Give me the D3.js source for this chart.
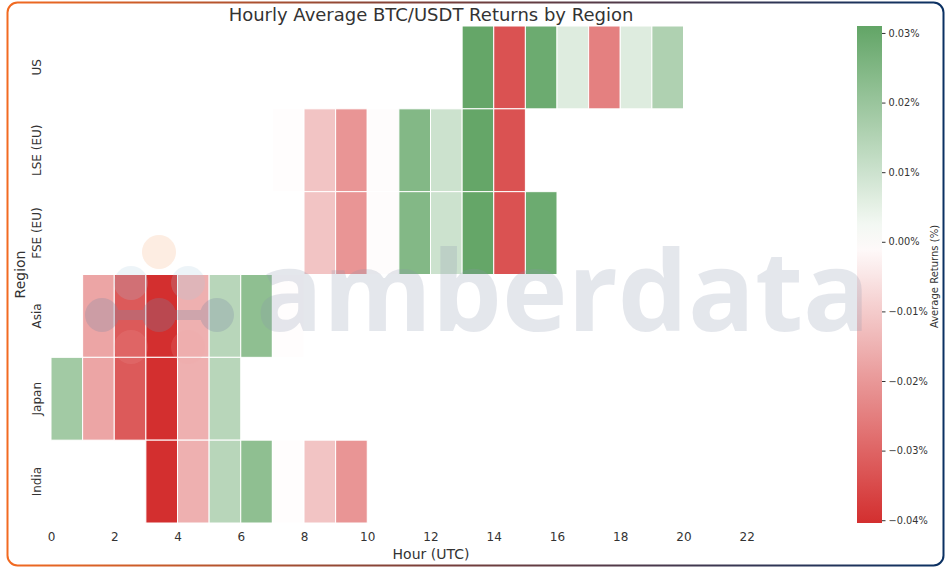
<!DOCTYPE html>
<html>
<head>
<meta charset="utf-8">
<script src="https://cdn.jsdelivr.net/npm/d3@7"></script>
<style>
  body { margin: 0; background: #fff; }
  svg { display: block; font-family: "DejaVu Sans", sans-serif; }
</style>
</head>
<body>
<div id="wrapper"></div>
<script>
/// Data ///
const regions = ["US", "LSE (EU)", "FSE (EU)", "Asia", "Japan", "India"];
const hourTicks = [0, 2, 4, 6, 8, 10, 12, 14, 16, 18, 20, 22];
const cbTicks = [0.03, 0.02, 0.01, 0.0, -0.01, -0.02, -0.03, -0.04];

// average returns (%) per region, keyed by hour (missing hours = no data)
const usHours = [13, 14, 15, 16, 17, 18, 19];
const usVals = [0.0305, -0.0336, 0.0290, 0.0065, -0.0247, 0.0065, 0.0158];
const lseHours = [7, 8, 9, 10, 11, 12, 13, 14];
const lseVals = [-0.0004, -0.0115, -0.0206, -0.0006, 0.0245, 0.0100, 0.0305, -0.0336];
const fseHours = [8, 9, 10, 11, 12, 13, 14, 15];
const fseVals = [-0.0115, -0.0206, -0.0006, 0.0245, 0.0100, 0.0305, -0.0336, 0.0290];
const asiaHours = [1, 2, 3, 4, 5, 6, 7];
const asiaVals = [-0.0175, -0.0320, -0.0404, -0.0154, 0.0140, 0.0222, -0.0003];
const japanHours = [0, 1, 2, 3, 4, 5];
const japanVals = [0.0184, -0.0175, -0.0320, -0.0404, -0.0154, 0.0140];
const indiaHours = [3, 4, 5, 6, 7, 8, 9];
const indiaVals = [-0.0404, -0.0154, 0.0140, 0.0222, -0.0003, -0.0115, -0.0206];

const rowHours = [usHours, lseHours, fseHours, asiaHours, japanHours, indiaHours];
const rowVals = [usVals, lseVals, fseVals, asiaVals, japanVals, indiaVals];

const cells = [];
regions.forEach((r, i) => {
  rowHours[i].forEach((h, j) => cells.push({ region: r, hour: h, value: rowVals[i][j] }));
});

/// Dimensions ///
const width = 951;
const height = 568;
const plot = { left: 51, right: 810, top: 26, bottom: 523 };
const cb = { left: 857, right: 882 };
const vmin = -0.0404, vmax = 0.0310;

const svg = d3.select("#wrapper").append("svg")
  .attr("width", width)
  .attr("height", height);

// frame with gradient border
const defs = svg.append("defs");
const grad = defs.append("linearGradient").attr("id", "frameGrad")
  .attr("x1", "0%").attr("x2", "100%").attr("y1", "0%").attr("y2", "0%");
grad.append("stop").attr("offset", "0%").attr("stop-color", "#f26a21");
grad.append("stop").attr("offset", "45%").attr("stop-color", "#7a3f3a");
grad.append("stop").attr("offset", "100%").attr("stop-color", "#0b3163");

svg.append("rect")
  .attr("x", 7.5).attr("y", 2.5)
  .attr("width", 936).attr("height", 563)
  .attr("rx", 10)
  .attr("fill", "#fff")
  .attr("stroke", "url(#frameGrad)")
  .attr("stroke-width", 2);

/// Scales ///
const x = d3.scaleLinear().domain([0, 24]).range([plot.left, plot.right]);
const y = d3.scaleBand().domain(regions).range([plot.top, plot.bottom]);
const color = d3.scaleLinear()
  .domain([vmin, 0, vmax])
  .range(["#d32f2f", "#ffffff", "#62a566"]);

/// Cells ///
svg.append("g")
  .selectAll("rect")
  .data(cells)
  .join("rect")
    .attr("x", d => x(d.hour))
    .attr("y", d => y(d.region))
    .attr("width", x(1) - x(0))
    .attr("height", y.bandwidth())
    .attr("fill", d => color(d.value))
    .attr("stroke", "#fff")
    .attr("stroke-width", 1);

/// Axes ///
const xAxis = svg.append("g")
  .attr("transform", `translate(0, ${plot.bottom})`)
  .call(d3.axisBottom(x).tickValues(hourTicks).tickSize(0).tickPadding(9).tickFormat(d3.format("d")));
xAxis.select(".domain").remove();
xAxis.selectAll("text").attr("font-size", 12).attr("fill", "#333").attr("font-family", "DejaVu Sans");

const yAxis = svg.append("g")
  .attr("transform", `translate(${plot.left}, 0)`)
  .call(d3.axisLeft(y).tickSize(0).tickPadding(0));
yAxis.select(".domain").remove();
yAxis.selectAll("text")
  .attr("font-size", 12).attr("fill", "#333").attr("font-family", "DejaVu Sans")
  .attr("text-anchor", "middle")
  .attr("transform", "translate(-14,0) rotate(-90)")
  .attr("x", 0).attr("dy", "0.35em");

svg.append("text")
  .attr("x", (plot.left + plot.right) / 2 + 0.5).attr("y", 559)
  .attr("text-anchor", "middle").attr("font-size", 14).attr("fill", "#333")
  .text("Hour (UTC)");

svg.append("text")
  .attr("transform", `translate(25, ${(plot.top + plot.bottom) / 2}) rotate(-90)`)
  .attr("text-anchor", "middle").attr("font-size", 14).attr("fill", "#333")
  .text("Region");

svg.append("text")
  .attr("x", 431).attr("y", 21)
  .attr("text-anchor", "middle").attr("font-size", 18).attr("fill", "#333")
  .text("Hourly Average BTC/USDT Returns by Region");

/// Colorbar ///
const cbY = d3.scaleLinear().domain([vmin, vmax]).range([plot.bottom, plot.top]);
const cbGrad = defs.append("linearGradient").attr("id", "cbGrad")
  .attr("x1", "0%").attr("x2", "0%").attr("y1", "100%").attr("y2", "0%");
d3.range(0, 1.0001, 0.05).forEach(t => {
  const v = vmin + t * (vmax - vmin);
  cbGrad.append("stop").attr("offset", `${t * 100}%`).attr("stop-color", color(v));
});
svg.append("rect")
  .attr("x", cb.left).attr("y", plot.top)
  .attr("width", cb.right - cb.left).attr("height", plot.bottom - plot.top)
  .attr("fill", "url(#cbGrad)");

const cbAxis = svg.append("g")
  .attr("transform", `translate(${cb.right}, 0)`)
  .call(d3.axisRight(cbY).tickValues(cbTicks).tickSize(3.5).tickPadding(3)
    .tickFormat(d => d3.format(".2f")(d) + "%"));
cbAxis.select(".domain").remove();
cbAxis.selectAll("line").attr("stroke", "#333");
cbAxis.selectAll("text").attr("font-size", 9.8).attr("fill", "#333").attr("font-family", "DejaVu Sans");

svg.append("text")
  .attr("transform", `translate(938, ${(plot.top + plot.bottom) / 2 + 2}) rotate(-90)`)
  .attr("text-anchor", "middle").attr("font-size", 10).attr("fill", "#333")
  .text("Average Returns (%)");

/// Watermark ///
const wm = svg.append("g").attr("pointer-events", "none");
wm.append("circle").attr("cx", 159).attr("cy", 252).attr("r", 17)
  .attr("fill", "#f9b88c").attr("opacity", 0.25);
const blueDots = wm.append("g").attr("fill", "#a9cbe0").attr("opacity", 0.2);
[[131, 283], [188, 283]].forEach(([cx, cy]) =>
  blueDots.append("circle").attr("cx", cx).attr("cy", cy).attr("r", 17));
const pinkDots = wm.append("g").attr("fill", "#f2a8a8").attr("opacity", 0.15);
[[131, 347], [188, 347]].forEach(([cx, cy]) =>
  pinkDots.append("circle").attr("cx", cx).attr("cy", cy).attr("r", 17));
const greyDots = wm.append("g").attr("fill", "#7d8aa5").attr("opacity", 0.28);
[[102, 315], [159, 315], [217, 315]].forEach(([cx, cy]) =>
  greyDots.append("circle").attr("cx", cx).attr("cy", cy).attr("r", 17));
greyDots.append("rect").attr("x", 102).attr("y", 310).attr("width", 115).attr("height", 10);

wm.append("text")
  .attr("x", 256).attr("y", 331)
  .attr("font-family", "'Open Sans', Lato, sans-serif")
  .attr("font-weight", 700)
  .attr("font-size", 112)
  .attr("textLength", 614)
  .attr("lengthAdjust", "spacingAndGlyphs")
  .attr("fill", "#8a95ad").attr("opacity", 0.22)
  .text("amberdata");
</script>
</body>
</html>
